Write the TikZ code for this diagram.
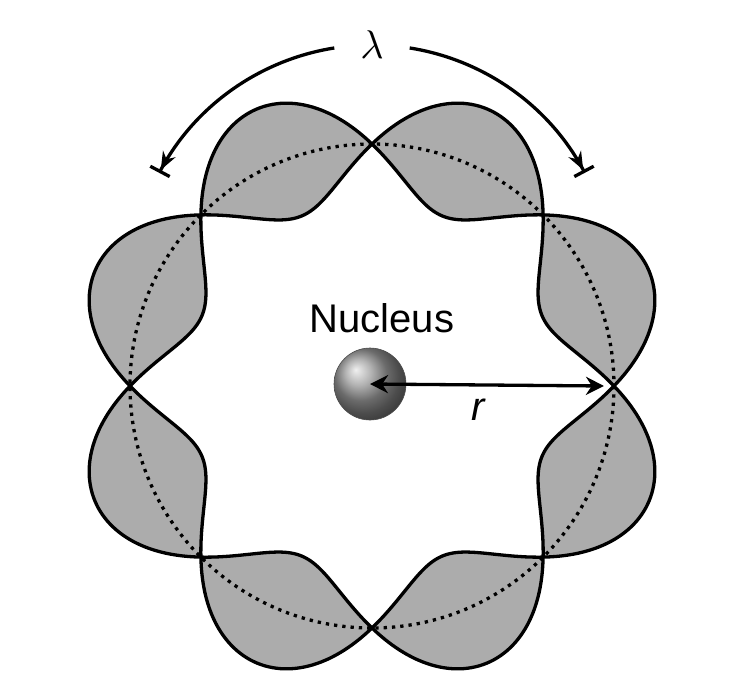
\documentclass[tikz,border=0pt]{standalone}
\usepackage{fontspec}
\setmainfont{Liberation Sans}
\usetikzlibrary{arrows.meta,calc}
\begin{document}
\begin{tikzpicture}[x=1pt,y=-1pt,line width=3.3pt,
  tipend/.style={-{Stealth[length=18pt,width=14pt]Bar[width=22pt,line width=3.3pt]}}]
\useasboundingbox (0,0) rectangle (737,699);
\coordinate (o) at (372,386);
\coordinate (lc) at (372,286);
% wave
\fill[gray!65,even odd rule] plot[domain=0:360,samples=241,smooth] ({372+(242+58*sin(4*\x))*cos(\x)},{386+(242+58*sin(4*\x))*sin(\x)}) -- cycle
  plot[domain=0:360,samples=241,smooth] ({372+(242-58*sin(4*\x))*cos(\x)},{386+(242-58*sin(4*\x))*sin(\x)}) -- cycle;
\draw[line join=round] plot[domain=0:360,samples=241,smooth] ({372+(242+58*sin(4*\x))*cos(\x)},{386+(242+58*sin(4*\x))*sin(\x)}) -- cycle;
\draw[line join=round] plot[domain=0:360,samples=241,smooth] ({372+(242-58*sin(4*\x))*cos(\x)},{386+(242-58*sin(4*\x))*sin(\x)}) -- cycle;
\draw[line width=3.3pt,dash pattern=on 3.3pt off 5pt] (o) circle[radius=242];
% nucleus
\node[circle,minimum size=72pt,inner sep=0pt,ball color=gray!80,draw=gray!60!black,line width=0.6pt] (nuc) at (370,384) {};
\node[font=\fontsize{40}{40}\selectfont] (lab) at (382,318) {Nucleus};
\coordinate (re) at (604,386);
\draw[{Stealth[length=18pt,width=18pt]}-{Stealth[length=18pt,width=18pt]}] (nuc.center) -- (re);
\node[font=\itshape\fontsize{40}{40}\selectfont] (r) at (478,410) {r};
% lambda
\node (lam) at (372,45) {\scalebox{4}{$\lambda$}};
\draw[tipend] ($(lc)+(-99:241)$) arc[start angle=-99,end angle=-152,radius=241];
\draw[tipend] ($(lc)+(-81:241)$) arc[start angle=-81,end angle=-28,radius=241];
\end{tikzpicture}
\end{document}
